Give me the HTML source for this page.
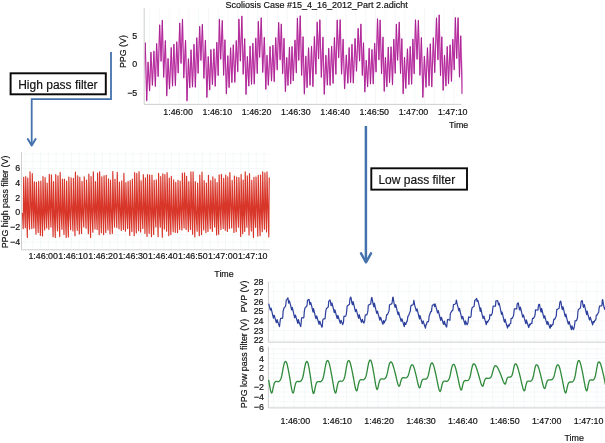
<!DOCTYPE html>
<html><head><meta charset="utf-8"><title>PPG filter figure</title>
<style>html,body{margin:0;padding:0;background:#fff;width:605px;height:443px;overflow:hidden}svg{display:block;filter:blur(0.3px)}</style>
</head><body>
<svg width="605" height="443" viewBox="0 0 605 443" font-family="'Liberation Sans', Arial, Helvetica, sans-serif" fill="#111">
<style>text{stroke:#111;stroke-width:0.18px;paint-order:stroke}</style>
<rect width="605" height="443" fill="#ffffff"/>
<line x1="149.6" y1="8.1" x2="149.6" y2="104.4" stroke="#f2f6f7" stroke-width="0.8"/>
<line x1="159.42" y1="8.1" x2="159.42" y2="104.4" stroke="#f2f6f7" stroke-width="0.8"/>
<line x1="169.24" y1="8.1" x2="169.24" y2="104.4" stroke="#f2f6f7" stroke-width="0.8"/>
<line x1="179.06" y1="8.1" x2="179.06" y2="104.4" stroke="#f2f6f7" stroke-width="0.8"/>
<line x1="188.88" y1="8.1" x2="188.88" y2="104.4" stroke="#f2f6f7" stroke-width="0.8"/>
<line x1="198.7" y1="8.1" x2="198.7" y2="104.4" stroke="#f2f6f7" stroke-width="0.8"/>
<line x1="208.52" y1="8.1" x2="208.52" y2="104.4" stroke="#f2f6f7" stroke-width="0.8"/>
<line x1="218.34" y1="8.1" x2="218.34" y2="104.4" stroke="#f2f6f7" stroke-width="0.8"/>
<line x1="228.16" y1="8.1" x2="228.16" y2="104.4" stroke="#f2f6f7" stroke-width="0.8"/>
<line x1="237.98" y1="8.1" x2="237.98" y2="104.4" stroke="#f2f6f7" stroke-width="0.8"/>
<line x1="247.8" y1="8.1" x2="247.8" y2="104.4" stroke="#f2f6f7" stroke-width="0.8"/>
<line x1="257.62" y1="8.1" x2="257.62" y2="104.4" stroke="#f2f6f7" stroke-width="0.8"/>
<line x1="267.44" y1="8.1" x2="267.44" y2="104.4" stroke="#f2f6f7" stroke-width="0.8"/>
<line x1="277.26" y1="8.1" x2="277.26" y2="104.4" stroke="#f2f6f7" stroke-width="0.8"/>
<line x1="287.08" y1="8.1" x2="287.08" y2="104.4" stroke="#f2f6f7" stroke-width="0.8"/>
<line x1="296.9" y1="8.1" x2="296.9" y2="104.4" stroke="#f2f6f7" stroke-width="0.8"/>
<line x1="306.72" y1="8.1" x2="306.72" y2="104.4" stroke="#f2f6f7" stroke-width="0.8"/>
<line x1="316.54" y1="8.1" x2="316.54" y2="104.4" stroke="#f2f6f7" stroke-width="0.8"/>
<line x1="326.36" y1="8.1" x2="326.36" y2="104.4" stroke="#f2f6f7" stroke-width="0.8"/>
<line x1="336.18" y1="8.1" x2="336.18" y2="104.4" stroke="#f2f6f7" stroke-width="0.8"/>
<line x1="346" y1="8.1" x2="346" y2="104.4" stroke="#f2f6f7" stroke-width="0.8"/>
<line x1="355.82" y1="8.1" x2="355.82" y2="104.4" stroke="#f2f6f7" stroke-width="0.8"/>
<line x1="365.64" y1="8.1" x2="365.64" y2="104.4" stroke="#f2f6f7" stroke-width="0.8"/>
<line x1="375.46" y1="8.1" x2="375.46" y2="104.4" stroke="#f2f6f7" stroke-width="0.8"/>
<line x1="385.28" y1="8.1" x2="385.28" y2="104.4" stroke="#f2f6f7" stroke-width="0.8"/>
<line x1="395.1" y1="8.1" x2="395.1" y2="104.4" stroke="#f2f6f7" stroke-width="0.8"/>
<line x1="404.92" y1="8.1" x2="404.92" y2="104.4" stroke="#f2f6f7" stroke-width="0.8"/>
<line x1="414.74" y1="8.1" x2="414.74" y2="104.4" stroke="#f2f6f7" stroke-width="0.8"/>
<line x1="424.56" y1="8.1" x2="424.56" y2="104.4" stroke="#f2f6f7" stroke-width="0.8"/>
<line x1="434.38" y1="8.1" x2="434.38" y2="104.4" stroke="#f2f6f7" stroke-width="0.8"/>
<line x1="444.2" y1="8.1" x2="444.2" y2="104.4" stroke="#f2f6f7" stroke-width="0.8"/>
<line x1="454.02" y1="8.1" x2="454.02" y2="104.4" stroke="#f2f6f7" stroke-width="0.8"/>
<line x1="144.2" y1="8.1" x2="144.2" y2="104.4" stroke="#c9c9c9" stroke-width="0.9"/>
<line x1="144.2" y1="104.4" x2="461.6" y2="104.4" stroke="#c9c9c9" stroke-width="0.9"/>
<clipPath id="ct"><rect x="144.79999999999998" y="0" width="317.6" height="120"/></clipPath><g clip-path="url(#ct)">
<polyline points="142.14,29.64 143.47,79.82 145.26,42.83 146.71,100.71 148.06,62.1 149.59,90.76 150.95,52.22 152.41,85.29 153.93,51.18 155.37,86.33 156.63,43.5 158.16,76.37 159.67,24.94 161.05,61.19 162.32,20.25 163.66,77.29 165.38,40.66 166.74,95.83 168.07,58.59 169.51,88.82 171.22,47.68 172.53,86.05 173.88,44.27 175.38,85.57 176.74,41.88 178.21,72.86 179.72,23.08 181.05,63.34 182.48,19.35 183.79,77.82 185.54,40.24 186.99,100.8 188.43,58.82 189.76,87.69 191.03,49.9 192.51,86.9 193.99,44.38 195.36,87.2 196.76,37.73 198.14,73.16 199.67,26.45 200.95,60.31 202.38,24.42 203.9,78.24 205.42,40.21 206.88,97.33 208.26,56.64 209.71,89.81 210.89,49.57 212.42,84.52 213.91,48.93 215.23,86.19 216.81,42.35 218.18,75.44 219.38,19.23 220.67,59.18 222.29,20.65 223.61,75.24 224.94,39.88 226.37,93.82 227.81,55.73 229.1,87.45 230.59,47.75 231.88,82.45 233.31,44.85 234.82,82.26 236.28,40.63 237.73,71.67 238.9,19.14 240.38,61.03 241.86,16.13 243.19,74.2 244.67,38.69 246.03,94.34 247.36,56.46 248.79,86.01 250.07,46.18 251.53,84.18 252.87,43.25 254.28,83.96 255.77,38.19 257.3,73.37 258.34,21.37 259.64,57.28 261.23,17.83 262.71,72.32 264.33,37.37 265.8,89.23 267.03,55.32 268.37,85.08 270.06,46.59 271.52,80.87 272.91,45.3 274.22,81.57 275.71,37.7 277.23,69.83 278.65,22.55 280.1,59.68 281.31,23.96 282.65,73.64 284.03,38.34 285.41,91.54 286.72,57.53 287.98,85.31 289.45,47.26 290.67,83.79 292.02,46.6 293.25,80.64 295,40.14 296.33,72.79 297.41,18.16 298.75,60.22 300.23,15.88 301.61,75.3 303.07,36.77 304.35,93.87 305.8,56.16 307.08,87.51 308.57,47.76 310.03,85.19 311.53,46.27 312.92,86.53 314.41,36.64 315.92,74.07 317.18,22.17 318.59,58.75 319.85,19.83 321.34,77.29 322.94,37.2 324.28,94.24 325.87,55.29 327.35,85.04 328.7,48.28 330.09,85.31 331.62,46.23 333.07,83.32 334.43,37.55 335.88,74.18 337.22,20.09 338.65,57.74 340.18,19.75 341.55,74.05 343.1,39.25 344.58,88.67 346.31,55.13 347.88,83.15 349.14,47.69 350.59,82.46 351.97,44.37 353.31,83.05 355.05,38.53 356.49,71.11 358.17,28.44 359.57,60.96 360.89,24.01 362.35,75.33 363.49,42.81 364.79,91.97 366.26,60.33 367.6,86.69 369.17,48.39 370.46,83.93 371.93,49.62 373.26,83.85 374.63,43.27 376.04,71.99 377.52,18.89 378.92,59.83 380.14,20.12 381.56,73.7 383,37.12 384.26,91.28 385.44,57.48 386.85,86.77 388.28,47.28 389.52,82.6 391.07,46.86 392.49,84.61 393.78,39.31 395.23,73.23 396.37,24.2 397.6,60.25 399.26,22.16 400.54,73.37 401.83,38.71 403.17,93.67 404.5,57.4 405.79,88.29 407.47,48.87 408.89,84.52 410.19,46.57 411.62,84.11 412.89,39.16 414.17,73.68 415.48,19.87 417.06,59.28 418.37,20.44 419.92,75.26 421.4,37.66 422.85,97.29 424.39,56.36 426.01,87.17 427.45,47.78 429.07,85.69 430.3,43.92 431.78,86.79 433.33,37.73 434.72,72.51 436.49,17.93 437.93,59.73 439.17,14.95 440.52,75.56 441.8,36.92 443.15,90.26 444.5,55.38 445.95,86.03 447.24,46.54 448.52,83.67 450.09,44.93 451.46,81.28 452.79,39.36 454.22,69.8 455.37,17.62 456.71,58.39 458.09,17.82 459.49,77.1 460.74,35.89 462.18,93.84 463.6,53.84" fill="none" stroke="#e25cc8" stroke-width="1.15" stroke-linejoin="round" />
<polyline points="142.14,29.64 143.47,79.82 145.26,42.83 146.71,100.71 148.06,62.1 149.59,90.76 150.95,52.22 152.41,85.29 153.93,51.18 155.37,86.33 156.63,43.5 158.16,76.37 159.67,24.94 161.05,61.19 162.32,20.25 163.66,77.29 165.38,40.66 166.74,95.83 168.07,58.59 169.51,88.82 171.22,47.68 172.53,86.05 173.88,44.27 175.38,85.57 176.74,41.88 178.21,72.86 179.72,23.08 181.05,63.34 182.48,19.35 183.79,77.82 185.54,40.24 186.99,100.8 188.43,58.82 189.76,87.69 191.03,49.9 192.51,86.9 193.99,44.38 195.36,87.2 196.76,37.73 198.14,73.16 199.67,26.45 200.95,60.31 202.38,24.42 203.9,78.24 205.42,40.21 206.88,97.33 208.26,56.64 209.71,89.81 210.89,49.57 212.42,84.52 213.91,48.93 215.23,86.19 216.81,42.35 218.18,75.44 219.38,19.23 220.67,59.18 222.29,20.65 223.61,75.24 224.94,39.88 226.37,93.82 227.81,55.73 229.1,87.45 230.59,47.75 231.88,82.45 233.31,44.85 234.82,82.26 236.28,40.63 237.73,71.67 238.9,19.14 240.38,61.03 241.86,16.13 243.19,74.2 244.67,38.69 246.03,94.34 247.36,56.46 248.79,86.01 250.07,46.18 251.53,84.18 252.87,43.25 254.28,83.96 255.77,38.19 257.3,73.37 258.34,21.37 259.64,57.28 261.23,17.83 262.71,72.32 264.33,37.37 265.8,89.23 267.03,55.32 268.37,85.08 270.06,46.59 271.52,80.87 272.91,45.3 274.22,81.57 275.71,37.7 277.23,69.83 278.65,22.55 280.1,59.68 281.31,23.96 282.65,73.64 284.03,38.34 285.41,91.54 286.72,57.53 287.98,85.31 289.45,47.26 290.67,83.79 292.02,46.6 293.25,80.64 295,40.14 296.33,72.79 297.41,18.16 298.75,60.22 300.23,15.88 301.61,75.3 303.07,36.77 304.35,93.87 305.8,56.16 307.08,87.51 308.57,47.76 310.03,85.19 311.53,46.27 312.92,86.53 314.41,36.64 315.92,74.07 317.18,22.17 318.59,58.75 319.85,19.83 321.34,77.29 322.94,37.2 324.28,94.24 325.87,55.29 327.35,85.04 328.7,48.28 330.09,85.31 331.62,46.23 333.07,83.32 334.43,37.55 335.88,74.18 337.22,20.09 338.65,57.74 340.18,19.75 341.55,74.05 343.1,39.25 344.58,88.67 346.31,55.13 347.88,83.15 349.14,47.69 350.59,82.46 351.97,44.37 353.31,83.05 355.05,38.53 356.49,71.11 358.17,28.44 359.57,60.96 360.89,24.01 362.35,75.33 363.49,42.81 364.79,91.97 366.26,60.33 367.6,86.69 369.17,48.39 370.46,83.93 371.93,49.62 373.26,83.85 374.63,43.27 376.04,71.99 377.52,18.89 378.92,59.83 380.14,20.12 381.56,73.7 383,37.12 384.26,91.28 385.44,57.48 386.85,86.77 388.28,47.28 389.52,82.6 391.07,46.86 392.49,84.61 393.78,39.31 395.23,73.23 396.37,24.2 397.6,60.25 399.26,22.16 400.54,73.37 401.83,38.71 403.17,93.67 404.5,57.4 405.79,88.29 407.47,48.87 408.89,84.52 410.19,46.57 411.62,84.11 412.89,39.16 414.17,73.68 415.48,19.87 417.06,59.28 418.37,20.44 419.92,75.26 421.4,37.66 422.85,97.29 424.39,56.36 426.01,87.17 427.45,47.78 429.07,85.69 430.3,43.92 431.78,86.79 433.33,37.73 434.72,72.51 436.49,17.93 437.93,59.73 439.17,14.95 440.52,75.56 441.8,36.92 443.15,90.26 444.5,55.38 445.95,86.03 447.24,46.54 448.52,83.67 450.09,44.93 451.46,81.28 452.79,39.36 454.22,69.8 455.37,17.62 456.71,58.39 458.09,17.82 459.49,77.1 460.74,35.89 462.18,93.84 463.6,53.84" fill="none" stroke="#941480" stroke-width="0.6" stroke-linejoin="round" />
</g>
<text x="178.1" y="114.9" text-anchor="middle" font-size="8.9" >1:46:00</text>
<text x="217.33" y="114.9" text-anchor="middle" font-size="8.9" >1:46:10</text>
<text x="256.56" y="114.9" text-anchor="middle" font-size="8.9" >1:46:20</text>
<text x="295.79" y="114.9" text-anchor="middle" font-size="8.9" >1:46:30</text>
<text x="335.02" y="114.9" text-anchor="middle" font-size="8.9" >1:46:40</text>
<text x="374.25" y="114.9" text-anchor="middle" font-size="8.9" >1:46:50</text>
<text x="413.48" y="114.9" text-anchor="middle" font-size="8.9" >1:47:00</text>
<text x="452.71" y="114.9" text-anchor="middle" font-size="8.9" >1:47:10</text>
<text x="137.3" y="39" text-anchor="end" font-size="8.9" >5</text>
<text x="137.3" y="67" text-anchor="end" font-size="8.9" >0</text>
<text x="137.3" y="95.6" text-anchor="end" font-size="8.9" >−5</text>
<text x="458.6" y="128.4" text-anchor="middle" font-size="8.9" >Time</text>
<text x="316.6" y="7.9" text-anchor="middle" font-size="9.0" >Scoliosis Case #15_4_16_2012_Part 2.adicht</text>
<text transform="translate(125.8,51.6) rotate(-90)" text-anchor="middle" font-size="8.9">PPG (V)</text>
<line x1="25.3" y1="151.8" x2="25.3" y2="249.8" stroke="#f2f6f7" stroke-width="0.8"/>
<line x1="33" y1="151.8" x2="33" y2="249.8" stroke="#f2f6f7" stroke-width="0.8"/>
<line x1="40.7" y1="151.8" x2="40.7" y2="249.8" stroke="#f2f6f7" stroke-width="0.8"/>
<line x1="48.4" y1="151.8" x2="48.4" y2="249.8" stroke="#f2f6f7" stroke-width="0.8"/>
<line x1="56.1" y1="151.8" x2="56.1" y2="249.8" stroke="#f2f6f7" stroke-width="0.8"/>
<line x1="63.8" y1="151.8" x2="63.8" y2="249.8" stroke="#f2f6f7" stroke-width="0.8"/>
<line x1="71.5" y1="151.8" x2="71.5" y2="249.8" stroke="#f2f6f7" stroke-width="0.8"/>
<line x1="79.2" y1="151.8" x2="79.2" y2="249.8" stroke="#f2f6f7" stroke-width="0.8"/>
<line x1="86.9" y1="151.8" x2="86.9" y2="249.8" stroke="#f2f6f7" stroke-width="0.8"/>
<line x1="94.6" y1="151.8" x2="94.6" y2="249.8" stroke="#f2f6f7" stroke-width="0.8"/>
<line x1="102.3" y1="151.8" x2="102.3" y2="249.8" stroke="#f2f6f7" stroke-width="0.8"/>
<line x1="110" y1="151.8" x2="110" y2="249.8" stroke="#f2f6f7" stroke-width="0.8"/>
<line x1="117.7" y1="151.8" x2="117.7" y2="249.8" stroke="#f2f6f7" stroke-width="0.8"/>
<line x1="125.4" y1="151.8" x2="125.4" y2="249.8" stroke="#f2f6f7" stroke-width="0.8"/>
<line x1="133.1" y1="151.8" x2="133.1" y2="249.8" stroke="#f2f6f7" stroke-width="0.8"/>
<line x1="140.8" y1="151.8" x2="140.8" y2="249.8" stroke="#f2f6f7" stroke-width="0.8"/>
<line x1="148.5" y1="151.8" x2="148.5" y2="249.8" stroke="#f2f6f7" stroke-width="0.8"/>
<line x1="156.2" y1="151.8" x2="156.2" y2="249.8" stroke="#f2f6f7" stroke-width="0.8"/>
<line x1="163.9" y1="151.8" x2="163.9" y2="249.8" stroke="#f2f6f7" stroke-width="0.8"/>
<line x1="171.6" y1="151.8" x2="171.6" y2="249.8" stroke="#f2f6f7" stroke-width="0.8"/>
<line x1="179.3" y1="151.8" x2="179.3" y2="249.8" stroke="#f2f6f7" stroke-width="0.8"/>
<line x1="187" y1="151.8" x2="187" y2="249.8" stroke="#f2f6f7" stroke-width="0.8"/>
<line x1="194.7" y1="151.8" x2="194.7" y2="249.8" stroke="#f2f6f7" stroke-width="0.8"/>
<line x1="202.4" y1="151.8" x2="202.4" y2="249.8" stroke="#f2f6f7" stroke-width="0.8"/>
<line x1="210.1" y1="151.8" x2="210.1" y2="249.8" stroke="#f2f6f7" stroke-width="0.8"/>
<line x1="217.8" y1="151.8" x2="217.8" y2="249.8" stroke="#f2f6f7" stroke-width="0.8"/>
<line x1="225.5" y1="151.8" x2="225.5" y2="249.8" stroke="#f2f6f7" stroke-width="0.8"/>
<line x1="233.2" y1="151.8" x2="233.2" y2="249.8" stroke="#f2f6f7" stroke-width="0.8"/>
<line x1="240.9" y1="151.8" x2="240.9" y2="249.8" stroke="#f2f6f7" stroke-width="0.8"/>
<line x1="248.6" y1="151.8" x2="248.6" y2="249.8" stroke="#f2f6f7" stroke-width="0.8"/>
<line x1="256.3" y1="151.8" x2="256.3" y2="249.8" stroke="#f2f6f7" stroke-width="0.8"/>
<line x1="264" y1="151.8" x2="264" y2="249.8" stroke="#f2f6f7" stroke-width="0.8"/>
<line x1="21.5" y1="242.1" x2="269.5" y2="242.1" stroke="#f2f6f7" stroke-width="0.8"/>
<line x1="21.5" y1="234.75" x2="269.5" y2="234.75" stroke="#f2f6f7" stroke-width="0.8"/>
<line x1="21.5" y1="227.4" x2="269.5" y2="227.4" stroke="#f2f6f7" stroke-width="0.8"/>
<line x1="21.5" y1="220.05" x2="269.5" y2="220.05" stroke="#f2f6f7" stroke-width="0.8"/>
<line x1="21.5" y1="212.7" x2="269.5" y2="212.7" stroke="#f2f6f7" stroke-width="0.8"/>
<line x1="21.5" y1="205.35" x2="269.5" y2="205.35" stroke="#f2f6f7" stroke-width="0.8"/>
<line x1="21.5" y1="198" x2="269.5" y2="198" stroke="#f2f6f7" stroke-width="0.8"/>
<line x1="21.5" y1="190.65" x2="269.5" y2="190.65" stroke="#f2f6f7" stroke-width="0.8"/>
<line x1="21.5" y1="183.3" x2="269.5" y2="183.3" stroke="#f2f6f7" stroke-width="0.8"/>
<line x1="21.5" y1="175.95" x2="269.5" y2="175.95" stroke="#f2f6f7" stroke-width="0.8"/>
<line x1="21.5" y1="168.6" x2="269.5" y2="168.6" stroke="#f2f6f7" stroke-width="0.8"/>
<line x1="21.5" y1="161.25" x2="269.5" y2="161.25" stroke="#f2f6f7" stroke-width="0.8"/>
<line x1="21.5" y1="153.9" x2="269.5" y2="153.9" stroke="#f2f6f7" stroke-width="0.8"/>
<line x1="21.5" y1="151.8" x2="21.5" y2="249.8" stroke="#c9c9c9" stroke-width="0.9"/>
<line x1="21.5" y1="249.8" x2="269.5" y2="249.8" stroke="#c9c9c9" stroke-width="0.9"/>
<polyline points="22.43,212.91 23.22,228.6 23.67,177.4 24.55,210.68 25.28,227.69 25.73,176.64 26.61,209.82 27.33,237.52 27.78,178 28.75,216.69 29.55,229.22 30,171.83 31,209.13 31.82,228.56 32.27,173.63 33.17,209.34 33.9,228.05 34.35,181.82 35.25,211.87 35.99,234.28 36.44,182.31 37.42,216.09 38.22,232.37 38.67,181.42 39.61,214.53 40.38,235.36 40.83,181.07 41.77,216.36 42.53,235.91 42.98,176.49 43.9,215.11 44.65,230.04 45.1,177.63 45.97,211.7 46.69,227.94 47.14,183.12 48.08,212.25 48.85,229.4 49.3,174.43 50.21,210.16 50.96,227.09 51.41,174.79 52.33,208.79 53.09,236.78 53.54,181.6 54.49,217.47 55.27,237.49 55.72,174.6 56.7,215.48 57.5,230.81 57.95,175.89 58.92,211.59 59.71,236.61 60.16,172.43 61.14,214.15 61.95,229.31 62.4,179.16 63.27,211.76 63.97,234.48 64.42,179.2 65.4,215.13 66.19,237.47 66.64,181.19 67.59,217.77 68.37,236.99 68.82,177.08 69.83,216.02 70.65,229.6 71.1,177.78 72.12,211.47 72.95,230.98 73.4,178.38 74.27,212.57 74.98,235.71 75.43,172.09 76.43,213.44 77.25,230.31 77.7,175.73 78.6,211.21 79.34,233.93 79.79,177.32 80.76,214.11 81.55,233.53 82,181.39 82.99,215.28 83.8,226.97 84.25,176.79 85.25,209.4 86.07,228.22 86.52,180.08 87.54,211.37 88.38,233.64 88.83,174.06 89.8,212.79 90.59,237.4 91.04,176.53 92.05,216.09 92.87,232.26 93.32,171.76 94.26,211.09 95.04,228.94 95.49,181.49 96.39,212.34 97.13,229.57 97.58,173.05 98.47,209.79 99.19,234.63 99.64,171.74 100.59,212.62 101.36,232.84 101.81,176.79 102.8,213.22 103.61,234.6 104.06,175.79 105,214.02 105.76,232.53 106.21,175.28 107.19,212.5 107.99,229.98 108.44,178.79 109.32,212.07 110.04,234.04 110.49,180.1 111.52,215.16 112.36,233.4 112.81,171.57 113.75,211.76 114.52,227.05 114.97,179.32 115.97,210.35 116.79,227.55 117.24,172.28 118.22,208.2 119.03,228.82 119.48,182.15 120.47,212.48 121.28,230.54 121.73,180.83 122.66,213.14 123.42,229.46 123.87,173.23 124.75,209.78 125.47,231.14 125.92,182.6 126.86,214.15 127.63,228.56 128.08,181.29 128.99,212.02 129.74,235.42 130.19,180.63 131.12,216.25 131.88,231.61 132.33,179.12 133.36,213.24 134.2,235.72 134.65,172.68 135.57,213.66 136.32,233.05 136.77,173.42 137.76,212.18 138.57,230.68 139.02,171.61 139.91,210 140.64,232.09 141.09,180.7 142.05,214.1 142.84,228.53 143.29,174.57 144.21,209.64 144.96,233.53 145.41,177.81 146.31,214.02 147.05,236.57 147.5,174.64 148.43,214.9 149.19,233.33 149.64,175 150.66,212.91 151.49,236.73 151.94,175.13 152.9,215.17 153.69,234.51 154.14,180.33 155.09,215.55 155.86,227.02 156.31,179.72 157.31,210.47 158.12,236.73 158.57,173.26 159.52,214.52 160.3,227.21 160.75,176.51 161.63,209.46 162.35,237.14 162.8,173.77 163.68,214.96 164.41,229.08 164.86,174.6 165.84,210.01 166.64,231.28 167.09,172.69 168.03,210.77 168.8,235.67 169.25,178.16 170.15,215.54 170.88,234.6 171.33,176.31 172.36,214.2 173.2,231.84 173.65,179.91 174.55,213.67 175.3,232.32 175.75,182.44 176.74,214.86 177.55,232.59 178,180.34 178.92,214.31 179.67,229.47 180.12,181.09 181.1,212.54 181.91,230.06 182.36,173.14 183.31,210.14 184.09,227.94 184.54,172.78 185.41,208.63 186.12,229.41 186.57,176.37 187.55,210.84 188.35,231.56 188.8,181.62 189.71,214.08 190.46,229.48 190.91,171.93 191.84,209.34 192.61,234.24 193.06,171.9 194.04,212.42 194.84,236.99 195.29,181.56 196.32,217.59 197.16,231.16 197.61,183.06 198.55,214.32 199.32,235.79 199.77,175.01 200.74,214.52 201.54,234.6 201.99,172.1 202.93,212.72 203.71,229.91 204.16,180.52 205.13,212.62 205.93,232.56 206.38,182.99 207.27,215.21 207.99,231.51 208.44,175.43 209.47,211.89 210.31,228.79 210.76,180.56 211.65,211.91 212.38,231.37 212.83,176.78 213.8,212.27 214.6,226.91 215.05,178.75 215.92,210.06 216.63,234.9 217.08,182.62 217.96,216.6 218.68,234.33 219.13,174.89 220.14,213.52 220.96,229.45 221.41,174.43 222.4,210.2 223.21,228.41 223.66,178.44 224.54,210.92 225.26,230.27 225.71,175.14 226.62,210.97 227.36,231.42 227.81,176.89 228.68,212.33 229.4,228.54 229.85,172.47 230.87,208.91 231.7,227.86 232.15,180.41 233.16,211.25 233.98,232.45 234.43,176.13 235.42,212.74 236.23,231.68 236.68,176.98 237.66,212.54 238.46,227.1 238.91,177.61 239.89,209.78 240.68,236.5 241.13,174.44 242,214.78 242.71,233.64 243.16,179.99 244.03,214.86 244.75,231.51 245.2,171.77 246.11,210.6 246.86,227.16 247.31,175.9 248.27,209.22 249.05,235.09 249.5,173.59 250.5,213.56 251.32,231.07 251.77,180.28 252.71,213.3 253.47,237.53 253.92,177.37 254.83,216.48 255.57,227.31 256.02,176.95 256.98,209.68 257.78,236.18 258.23,175.27 259.25,214.86 260.08,235.73 260.53,175.03 261.48,214.49 262.25,231.7 262.7,171.85 263.66,210.75 264.44,229.18 264.89,172.81 265.8,209.45 266.54,231.98 266.99,171.93 267.98,210.96 268.79,237.01 269.24,177.47" fill="none" stroke="#d9362a" stroke-width="1.15" stroke-linejoin="round" />
<text x="43.2" y="258.7" text-anchor="middle" font-size="8.9" >1:46:00</text>
<text x="73.13" y="258.7" text-anchor="middle" font-size="8.9" >1:46:10</text>
<text x="103.06" y="258.7" text-anchor="middle" font-size="8.9" >1:46:20</text>
<text x="132.99" y="258.7" text-anchor="middle" font-size="8.9" >1:46:30</text>
<text x="162.92" y="258.7" text-anchor="middle" font-size="8.9" >1:46:40</text>
<text x="192.85" y="258.7" text-anchor="middle" font-size="8.9" >1:46:50</text>
<text x="222.78" y="258.7" text-anchor="middle" font-size="8.9" >1:47:00</text>
<text x="252.71" y="258.7" text-anchor="middle" font-size="8.9" >1:47:10</text>
<text x="20.1" y="171.3" text-anchor="end" font-size="8.9" >6</text>
<text x="20.1" y="186" text-anchor="end" font-size="8.9" >4</text>
<text x="20.1" y="200.7" text-anchor="end" font-size="8.9" >2</text>
<text x="20.1" y="215.4" text-anchor="end" font-size="8.9" >0</text>
<text x="20.1" y="230.1" text-anchor="end" font-size="8.9" >−2</text>
<text x="20.1" y="244.8" text-anchor="end" font-size="8.9" >−4</text>
<text x="224" y="276.5" text-anchor="middle" font-size="8.9" >Time</text>
<text transform="translate(8.0,202.0) rotate(-90)" text-anchor="middle" font-size="8.9">PPG high pass filter (V)</text>
<line x1="273.4" y1="281.7" x2="273.4" y2="342.2" stroke="#f2f6f7" stroke-width="0.8"/>
<line x1="273.4" y1="346.6" x2="273.4" y2="407.9" stroke="#f2f6f7" stroke-width="0.8"/>
<line x1="283.84" y1="281.7" x2="283.84" y2="342.2" stroke="#f2f6f7" stroke-width="0.8"/>
<line x1="283.84" y1="346.6" x2="283.84" y2="407.9" stroke="#f2f6f7" stroke-width="0.8"/>
<line x1="294.28" y1="281.7" x2="294.28" y2="342.2" stroke="#f2f6f7" stroke-width="0.8"/>
<line x1="294.28" y1="346.6" x2="294.28" y2="407.9" stroke="#f2f6f7" stroke-width="0.8"/>
<line x1="304.72" y1="281.7" x2="304.72" y2="342.2" stroke="#f2f6f7" stroke-width="0.8"/>
<line x1="304.72" y1="346.6" x2="304.72" y2="407.9" stroke="#f2f6f7" stroke-width="0.8"/>
<line x1="315.16" y1="281.7" x2="315.16" y2="342.2" stroke="#f2f6f7" stroke-width="0.8"/>
<line x1="315.16" y1="346.6" x2="315.16" y2="407.9" stroke="#f2f6f7" stroke-width="0.8"/>
<line x1="325.6" y1="281.7" x2="325.6" y2="342.2" stroke="#f2f6f7" stroke-width="0.8"/>
<line x1="325.6" y1="346.6" x2="325.6" y2="407.9" stroke="#f2f6f7" stroke-width="0.8"/>
<line x1="336.04" y1="281.7" x2="336.04" y2="342.2" stroke="#f2f6f7" stroke-width="0.8"/>
<line x1="336.04" y1="346.6" x2="336.04" y2="407.9" stroke="#f2f6f7" stroke-width="0.8"/>
<line x1="346.48" y1="281.7" x2="346.48" y2="342.2" stroke="#f2f6f7" stroke-width="0.8"/>
<line x1="346.48" y1="346.6" x2="346.48" y2="407.9" stroke="#f2f6f7" stroke-width="0.8"/>
<line x1="356.92" y1="281.7" x2="356.92" y2="342.2" stroke="#f2f6f7" stroke-width="0.8"/>
<line x1="356.92" y1="346.6" x2="356.92" y2="407.9" stroke="#f2f6f7" stroke-width="0.8"/>
<line x1="367.36" y1="281.7" x2="367.36" y2="342.2" stroke="#f2f6f7" stroke-width="0.8"/>
<line x1="367.36" y1="346.6" x2="367.36" y2="407.9" stroke="#f2f6f7" stroke-width="0.8"/>
<line x1="377.8" y1="281.7" x2="377.8" y2="342.2" stroke="#f2f6f7" stroke-width="0.8"/>
<line x1="377.8" y1="346.6" x2="377.8" y2="407.9" stroke="#f2f6f7" stroke-width="0.8"/>
<line x1="388.24" y1="281.7" x2="388.24" y2="342.2" stroke="#f2f6f7" stroke-width="0.8"/>
<line x1="388.24" y1="346.6" x2="388.24" y2="407.9" stroke="#f2f6f7" stroke-width="0.8"/>
<line x1="398.68" y1="281.7" x2="398.68" y2="342.2" stroke="#f2f6f7" stroke-width="0.8"/>
<line x1="398.68" y1="346.6" x2="398.68" y2="407.9" stroke="#f2f6f7" stroke-width="0.8"/>
<line x1="409.12" y1="281.7" x2="409.12" y2="342.2" stroke="#f2f6f7" stroke-width="0.8"/>
<line x1="409.12" y1="346.6" x2="409.12" y2="407.9" stroke="#f2f6f7" stroke-width="0.8"/>
<line x1="419.56" y1="281.7" x2="419.56" y2="342.2" stroke="#f2f6f7" stroke-width="0.8"/>
<line x1="419.56" y1="346.6" x2="419.56" y2="407.9" stroke="#f2f6f7" stroke-width="0.8"/>
<line x1="430" y1="281.7" x2="430" y2="342.2" stroke="#f2f6f7" stroke-width="0.8"/>
<line x1="430" y1="346.6" x2="430" y2="407.9" stroke="#f2f6f7" stroke-width="0.8"/>
<line x1="440.44" y1="281.7" x2="440.44" y2="342.2" stroke="#f2f6f7" stroke-width="0.8"/>
<line x1="440.44" y1="346.6" x2="440.44" y2="407.9" stroke="#f2f6f7" stroke-width="0.8"/>
<line x1="450.88" y1="281.7" x2="450.88" y2="342.2" stroke="#f2f6f7" stroke-width="0.8"/>
<line x1="450.88" y1="346.6" x2="450.88" y2="407.9" stroke="#f2f6f7" stroke-width="0.8"/>
<line x1="461.32" y1="281.7" x2="461.32" y2="342.2" stroke="#f2f6f7" stroke-width="0.8"/>
<line x1="461.32" y1="346.6" x2="461.32" y2="407.9" stroke="#f2f6f7" stroke-width="0.8"/>
<line x1="471.76" y1="281.7" x2="471.76" y2="342.2" stroke="#f2f6f7" stroke-width="0.8"/>
<line x1="471.76" y1="346.6" x2="471.76" y2="407.9" stroke="#f2f6f7" stroke-width="0.8"/>
<line x1="482.2" y1="281.7" x2="482.2" y2="342.2" stroke="#f2f6f7" stroke-width="0.8"/>
<line x1="482.2" y1="346.6" x2="482.2" y2="407.9" stroke="#f2f6f7" stroke-width="0.8"/>
<line x1="492.64" y1="281.7" x2="492.64" y2="342.2" stroke="#f2f6f7" stroke-width="0.8"/>
<line x1="492.64" y1="346.6" x2="492.64" y2="407.9" stroke="#f2f6f7" stroke-width="0.8"/>
<line x1="503.08" y1="281.7" x2="503.08" y2="342.2" stroke="#f2f6f7" stroke-width="0.8"/>
<line x1="503.08" y1="346.6" x2="503.08" y2="407.9" stroke="#f2f6f7" stroke-width="0.8"/>
<line x1="513.52" y1="281.7" x2="513.52" y2="342.2" stroke="#f2f6f7" stroke-width="0.8"/>
<line x1="513.52" y1="346.6" x2="513.52" y2="407.9" stroke="#f2f6f7" stroke-width="0.8"/>
<line x1="523.96" y1="281.7" x2="523.96" y2="342.2" stroke="#f2f6f7" stroke-width="0.8"/>
<line x1="523.96" y1="346.6" x2="523.96" y2="407.9" stroke="#f2f6f7" stroke-width="0.8"/>
<line x1="534.4" y1="281.7" x2="534.4" y2="342.2" stroke="#f2f6f7" stroke-width="0.8"/>
<line x1="534.4" y1="346.6" x2="534.4" y2="407.9" stroke="#f2f6f7" stroke-width="0.8"/>
<line x1="544.84" y1="281.7" x2="544.84" y2="342.2" stroke="#f2f6f7" stroke-width="0.8"/>
<line x1="544.84" y1="346.6" x2="544.84" y2="407.9" stroke="#f2f6f7" stroke-width="0.8"/>
<line x1="555.28" y1="281.7" x2="555.28" y2="342.2" stroke="#f2f6f7" stroke-width="0.8"/>
<line x1="555.28" y1="346.6" x2="555.28" y2="407.9" stroke="#f2f6f7" stroke-width="0.8"/>
<line x1="565.72" y1="281.7" x2="565.72" y2="342.2" stroke="#f2f6f7" stroke-width="0.8"/>
<line x1="565.72" y1="346.6" x2="565.72" y2="407.9" stroke="#f2f6f7" stroke-width="0.8"/>
<line x1="576.16" y1="281.7" x2="576.16" y2="342.2" stroke="#f2f6f7" stroke-width="0.8"/>
<line x1="576.16" y1="346.6" x2="576.16" y2="407.9" stroke="#f2f6f7" stroke-width="0.8"/>
<line x1="586.6" y1="281.7" x2="586.6" y2="342.2" stroke="#f2f6f7" stroke-width="0.8"/>
<line x1="586.6" y1="346.6" x2="586.6" y2="407.9" stroke="#f2f6f7" stroke-width="0.8"/>
<line x1="597.04" y1="281.7" x2="597.04" y2="342.2" stroke="#f2f6f7" stroke-width="0.8"/>
<line x1="597.04" y1="346.6" x2="597.04" y2="407.9" stroke="#f2f6f7" stroke-width="0.8"/>
<line x1="268.4" y1="340.2" x2="605" y2="340.2" stroke="#f2f6f7" stroke-width="0.8"/>
<line x1="268.4" y1="330.5" x2="605" y2="330.5" stroke="#f2f6f7" stroke-width="0.8"/>
<line x1="268.4" y1="320.8" x2="605" y2="320.8" stroke="#f2f6f7" stroke-width="0.8"/>
<line x1="268.4" y1="311.1" x2="605" y2="311.1" stroke="#f2f6f7" stroke-width="0.8"/>
<line x1="268.4" y1="301.4" x2="605" y2="301.4" stroke="#f2f6f7" stroke-width="0.8"/>
<line x1="268.4" y1="291.7" x2="605" y2="291.7" stroke="#f2f6f7" stroke-width="0.8"/>
<line x1="268.4" y1="282" x2="605" y2="282" stroke="#f2f6f7" stroke-width="0.8"/>
<line x1="268.4" y1="406.38" x2="605" y2="406.38" stroke="#f2f6f7" stroke-width="0.8"/>
<line x1="268.4" y1="401.6" x2="605" y2="401.6" stroke="#f2f6f7" stroke-width="0.8"/>
<line x1="268.4" y1="396.82" x2="605" y2="396.82" stroke="#f2f6f7" stroke-width="0.8"/>
<line x1="268.4" y1="392.04" x2="605" y2="392.04" stroke="#f2f6f7" stroke-width="0.8"/>
<line x1="268.4" y1="387.26" x2="605" y2="387.26" stroke="#f2f6f7" stroke-width="0.8"/>
<line x1="268.4" y1="382.48" x2="605" y2="382.48" stroke="#f2f6f7" stroke-width="0.8"/>
<line x1="268.4" y1="377.7" x2="605" y2="377.7" stroke="#f2f6f7" stroke-width="0.8"/>
<line x1="268.4" y1="372.92" x2="605" y2="372.92" stroke="#f2f6f7" stroke-width="0.8"/>
<line x1="268.4" y1="368.14" x2="605" y2="368.14" stroke="#f2f6f7" stroke-width="0.8"/>
<line x1="268.4" y1="363.36" x2="605" y2="363.36" stroke="#f2f6f7" stroke-width="0.8"/>
<line x1="268.4" y1="358.58" x2="605" y2="358.58" stroke="#f2f6f7" stroke-width="0.8"/>
<line x1="268.4" y1="353.8" x2="605" y2="353.8" stroke="#f2f6f7" stroke-width="0.8"/>
<line x1="268.4" y1="349.02" x2="605" y2="349.02" stroke="#f2f6f7" stroke-width="0.8"/>
<line x1="268.4" y1="281.7" x2="268.4" y2="342.2" stroke="#c9c9c9" stroke-width="0.9"/>
<line x1="268.4" y1="342.2" x2="605" y2="342.2" stroke="#c9c9c9" stroke-width="0.9"/>
<line x1="268.4" y1="346.6" x2="268.4" y2="407.9" stroke="#c9c9c9" stroke-width="0.9"/>
<line x1="268.4" y1="407.9" x2="605" y2="407.9" stroke="#c9c9c9" stroke-width="0.9"/>
<polyline points="268.7,379.79 269.2,382.98 269.7,385.96 270.2,388.85 270.7,391.08 271.2,392.59 271.7,393.04 272.2,392.27 272.7,390.14 273.2,387.35 273.7,385.33 274.2,383.52 274.7,382.39 275.2,381.85 275.7,381.54 276.2,381.43 276.7,381.43 277.2,381.46 277.7,381.56 278.2,381.63 278.7,381.51 279.2,381.23 279.7,380.81 280.2,380.15 280.7,379.25 281.2,377.94 281.7,375.98 282.2,373.5 282.7,370.62 283.2,367.88 283.7,365.46 284.2,363.44 284.7,362.18 285.2,361.56 285.7,361.47 286.2,361.95 286.7,363 287.2,364.71 287.7,366.85 288.2,369.26 288.7,371.94 289.2,374.66 289.7,377.46 290.2,380.41 290.7,383.61 291.2,386.55 291.7,389.36 292.2,391.45 292.7,392.77 293.2,392.99 293.7,391.94 294.2,389.58 294.7,386.93 295.2,384.94 295.7,383.23 296.2,382.25 296.7,381.78 297.2,381.5 297.7,381.42 298.2,381.44 298.7,381.48 299.2,381.58 299.7,381.62 300.2,381.46 300.7,381.16 301.2,380.71 301.7,379.99 302.2,379.04 302.7,377.59 303.2,375.51 303.7,372.96 304.2,370.04 304.7,367.39 305.2,365.01 305.7,363.13 306.2,362.01 306.7,361.51 307.2,361.55 307.7,362.34 308.2,363.92 308.7,366.25 309.2,368.96 309.7,372.03 310.2,375.18 310.7,378.44 311.2,381.97 311.7,385.57 312.2,388.91 312.7,391.54 313.2,393.2 313.7,393.47 314.2,392.42 314.7,390.04 315.2,387.34 315.7,385.31 316.2,383.56 316.7,382.52 317.2,382.01 317.7,381.71 318.2,381.61 318.7,381.61 319.2,381.63 319.7,381.72 320.2,381.76 320.7,381.61 321.2,381.3 321.7,380.84 322.2,380.13 322.7,379.17 323.2,377.76 323.7,375.69 324.2,373.1 324.7,370.1 325.2,367.26 325.7,364.73 326.2,362.63 326.7,361.3 327.2,360.63 327.7,360.51 328.2,360.94 328.7,361.89 329.2,363.42 329.7,365.42 330.2,367.65 330.7,370.17 331.2,372.79 331.7,375.44 332.2,378.19 332.7,381.15 333.2,384.21 333.7,387.03 334.2,389.62 334.7,391.56 335.2,392.78 335.7,392.98 336.2,391.74 336.7,389.01 337.2,386.3 337.7,384.15 338.2,382.5 338.7,381.69 339.2,381.29 339.7,381.09 340.2,381.08 340.7,381.1 341.2,381.2 341.7,381.28 342.2,381.15 342.7,380.84 343.2,380.36 343.7,379.59 344.2,378.54 344.7,376.88 345.2,374.49 345.7,371.62 346.2,368.43 346.7,365.68 347.2,363.24 347.7,361.57 348.2,360.72 348.7,360.49 349.2,360.79 349.7,361.58 350.2,362.9 350.7,364.7 351.2,366.73 351.7,369.05 352.2,371.49 352.7,373.95 353.2,376.5 353.7,379.21 354.2,382.09 354.7,384.73 355.2,387.26 355.7,389.18 356.2,390.49 356.7,390.89 357.2,390.1 357.7,387.95 358.2,385.23 358.7,383.26 359.2,381.53 359.7,380.5 360.2,380.02 360.7,379.74 361.2,379.65 361.7,379.66 362.2,379.69 362.7,379.79 363.2,379.81 363.7,379.63 364.2,379.3 364.7,378.82 365.2,378.06 365.7,377.05 366.2,375.45 366.7,373.21 367.2,370.58 367.7,367.66 368.2,365.13 368.7,362.85 369.2,361.23 369.7,360.33 370.2,360.01 370.7,360.28 371.2,361.19 371.7,362.81 372.2,364.95 372.7,367.4 373.2,370.12 373.7,372.89 374.2,375.75 374.7,378.86 375.2,382.03 375.7,384.97 376.2,387.36 376.7,388.98 377.2,389.45 377.7,388.71 378.2,386.67 378.7,384.08 379.2,382.23 379.7,380.59 380.2,379.62 380.7,379.17 381.2,378.93 381.7,378.87 382.2,378.91 382.7,378.96 383.2,379.09 383.7,379.15 384.2,379.03 384.7,378.78 385.2,378.38 385.7,377.76 386.2,376.9 386.7,375.58 387.2,373.69 387.7,371.41 388.2,368.83 388.7,366.56 389.2,364.54 389.7,363.04 390.2,362.22 390.7,361.93 391.2,362.01 391.7,362.45 392.2,363.26 392.7,364.48 393.2,365.97 393.7,367.61 394.2,369.45 394.7,371.34 395.2,373.25 395.7,375.24 396.2,377.37 396.7,379.58 397.2,381.61 397.7,383.51 398.2,384.96 398.7,385.94 399.2,386.24 399.7,385.55 400.2,383.72 400.7,381.6 401.2,380.03 401.7,378.75 402.2,378.09 402.7,377.81 403.2,377.67 403.7,377.68 404.2,377.74 404.7,377.84 405.2,377.95 405.7,377.93 406.2,377.77 406.7,377.5 407.2,377.06 407.7,376.42 408.2,375.43 408.7,373.96 409.2,372.13 409.7,370.04 410.2,368.21 410.7,366.6 411.2,365.47 411.7,364.91 412.2,364.79 412.7,364.98 413.2,365.59 413.7,366.68 414.2,368.19 414.7,369.9 415.2,371.84 415.7,373.85 416.2,375.91 416.7,378.05 417.2,380.4 417.7,382.63 418.2,384.78 418.7,386.45 419.2,387.58 419.7,387.91 420.2,387.11 420.7,385.08 421.2,382.99 421.7,381.33 422.2,380.14 422.7,379.58 423.2,379.28 423.7,379.17 424.2,379.15 424.7,379.17 425.2,379.23 425.7,379.16 426.2,378.92 426.7,378.53 427.2,377.92 427.7,377.04 428.2,375.65 428.7,373.6 429.2,371.18 429.7,368.59 430.2,366.35 430.7,364.5 431.2,363.4 431.7,362.92 432.2,362.99 432.7,363.5 433.2,364.45 433.7,365.88 434.2,367.63 434.7,369.57 435.2,371.73 435.7,373.94 436.2,376.19 436.7,378.52 437.2,381.03 437.7,383.63 438.2,386.01 438.7,388.24 439.2,389.95 439.7,391.1 440.2,391.46 440.7,390.69 441.2,388.62 441.7,386.09 442.2,384.25 442.7,382.68 443.2,381.79 443.7,381.39 444.2,381.17 444.7,381.14 445.2,381.17 445.7,381.24 446.2,381.36 446.7,381.37 447.2,381.19 447.7,380.89 448.2,380.41 448.7,379.7 449.2,378.72 449.7,377.11 450.2,374.99 450.7,372.52 451.2,370.01 451.7,367.87 452.2,366.04 452.7,364.91 453.2,364.39 453.7,364.34 454.2,364.7 454.7,365.51 455.2,366.83 455.7,368.5 456.2,370.38 456.7,372.48 457.2,374.63 457.7,376.83 458.2,379.13 458.7,381.64 459.2,384.04 459.7,386.34 460.2,388.18 460.7,389.49 461.2,390.02 461.7,389.47 462.2,387.55 462.7,385.1 463.2,383.3 463.7,381.82 464.2,381.06 464.7,380.71 465.2,380.53 465.7,380.51 466.2,380.52 466.7,380.61 467.2,380.65 467.7,380.5 468.2,380.2 468.7,379.73 469.2,378.99 469.7,377.97 470.2,376.27 470.7,374.04 471.2,371.4 471.7,368.91 472.2,366.72 472.7,365.06 473.2,364.16 473.7,363.84 474.2,363.95 474.7,364.36 475.2,365.06 475.7,366.1 476.2,367.36 476.7,368.74 477.2,370.29 477.7,371.91 478.2,373.54 478.7,375.21 479.2,376.96 479.7,378.86 480.2,380.69 480.7,382.43 481.2,383.99 481.7,385.18 482.2,385.99 482.7,386.24 483.2,385.56 483.7,383.79 484.2,381.83 484.7,380.35 485.2,379.18 485.7,378.61 486.2,378.36 486.7,378.25 487.2,378.27 487.7,378.31 488.2,378.41 488.7,378.48 489.2,378.41 489.7,378.21 490.2,377.9 490.7,377.38 491.2,376.66 491.7,375.49 492.2,373.84 492.7,371.93 493.2,369.95 493.7,368.27 494.2,366.88 494.7,366.08 495.2,365.76 495.7,365.77 496.2,365.97 496.7,366.36 497.2,366.96 497.7,367.77 498.2,368.73 498.7,369.76 499.2,370.91 499.7,372.11 500.2,373.32 500.7,374.55 501.2,375.82 501.7,377.18 502.2,378.6 502.7,379.91 503.2,381.22 503.7,382.35 504.2,383.23 504.7,383.86 505.2,384.13 505.7,383.46 506.2,381.43 506.7,379.63 507.2,378.21 507.7,377.53 508.2,377.23 508.7,377.12 509.2,377.1 509.7,377.15 510.2,377.13 510.7,376.91 511.2,376.52 511.7,375.85 512.2,374.82 512.7,373.05 513.2,370.73 513.7,368.25 514.2,366.13 514.7,364.63 515.2,363.94 515.7,363.88 516.2,364.23 516.7,364.93 517.2,366.03 517.7,367.46 518.2,369.06 518.7,370.87 519.2,372.8 519.7,374.75 520.2,376.75 520.7,378.82 521.2,381.04 521.7,383.33 522.2,385.43 522.7,387.47 523.2,389.06 523.7,390.26 524.2,390.84 524.7,390.52 525.2,388.73 525.7,386.06 526.2,384.12 526.7,382.49 527.2,381.63 527.7,381.26 528.2,381.07 528.7,381.07 529.2,381.11 529.7,381.21 530.2,381.28 530.7,381.14 531.2,380.85 531.7,380.38 532.2,379.63 532.7,378.56 533.2,376.8 533.7,374.49 534.2,371.8 534.7,369.36 535.2,367.22 535.7,365.71 536.2,364.97 536.7,364.79 537.2,365.03 537.7,365.64 538.2,366.67 538.7,368.08 539.2,369.67 539.7,371.48 540.2,373.38 540.7,375.31 541.2,377.3 541.7,379.41 542.2,381.67 542.7,383.73 543.2,385.7 543.7,387.2 544.2,388.22 544.7,388.53 545.2,387.87 545.7,386.09 546.2,383.97 546.7,382.4 547.2,381.08 547.7,380.36 548.2,380.03 548.7,379.84 549.2,379.81 549.7,379.82 550.2,379.88 550.7,379.95 551.2,379.91 551.7,379.72 552.2,379.41 552.7,378.93 553.2,378.24 553.7,377.23 554.2,375.68 554.7,373.7 555.2,371.41 555.7,369.3 556.2,367.42 556.7,365.97 557.2,365.14 557.7,364.81 558.2,364.91 558.7,365.49 559.2,366.56 559.7,368.16 560.2,370.03 560.7,372.16 561.2,374.47 561.7,376.8 562.2,379.21 562.7,381.74 563.2,384.48 563.7,387 564.2,389.44 564.7,391.3 565.2,392.56 565.7,392.94 566.2,392.13 566.7,389.95 567.2,387.37 567.7,385.41 568.2,383.76 568.7,382.85 569.2,382.4 569.7,382.11 570.2,382.02 570.7,381.98 571.2,382 571.7,382.03 572.2,381.9 572.7,381.58 573.2,381.1 573.7,380.37 574.2,379.36 574.7,377.85 575.2,375.62 575.7,372.83 576.2,369.62 576.7,366.73 577.2,364.11 577.7,362.14 578.2,360.99 578.7,360.49 579.2,360.69 579.7,361.38 580.2,362.59 580.7,364.31 581.2,366.31 581.7,368.57 582.2,371 582.7,373.45 583.2,375.98 583.7,378.64 584.2,381.52 584.7,384.17 585.2,386.8 585.7,388.84 586.2,390.29 586.7,390.89 587.2,390.19 587.7,387.83 588.2,384.96 588.7,382.83 589.2,381.17 589.7,380.39 590.2,380.03 590.7,379.89 591.2,379.92 591.7,379.98 592.2,380.12 592.7,380.14 593.2,379.93 593.7,379.55 594.2,378.92 594.7,378 595.2,376.55 595.7,374.34 596.2,371.61 596.7,368.59 597.2,366.02 597.7,363.83 598.2,362.52 598.7,361.97 599.2,361.97 599.7,362.37 600.2,363.15 600.7,364.37 601.2,365.95 601.7,367.71 602.2,369.7 602.7,371.81 603.2,373.94 603.7,376.12 604.2,378.39 604.7,380.86 605.2,383.3 605.7,385.58" fill="none" stroke="#2f8a3a" stroke-width="1.3" stroke-linejoin="round" />
<polyline points="268.7,303.67 269.1,305.11 269.5,306.65 269.9,308.43 270.3,310.21 270.7,309.71 271.1,308.12 271.5,309.84 271.9,311.56 272.3,313.27 272.7,314.99 273.1,316.7 273.5,318.24 273.9,315.28 274.3,315.47 274.7,316.9 275.1,318.33 275.5,319.77 275.9,321.18 276.3,322.5 276.7,322.59 277.1,319.49 277.5,320.81 277.9,322.13 278.3,323.39 278.7,324.48 279.1,325.57 279.5,326.66 279.9,323.21 280.3,319.6 280.7,318.27 281.1,318.23 281.5,318.26 281.9,318.3 282.3,318.32 282.7,317.78 283.1,311.24 283.5,309.81 283.9,308.54 284.3,307.47 284.7,307.12 285.1,306.75 285.5,306.38 285.9,303.73 286.3,299.98 286.7,299.6 287.1,299.19 287.5,298.52 287.9,297.85 288.3,300.44 288.7,303.04 289.1,300.88 289.5,301.12 289.9,302.6 290.3,304.07 290.7,305.75 291.1,307.58 291.5,309.42 291.9,310.03 292.3,307.43 292.7,309.2 293.1,310.97 293.5,312.74 293.9,314.51 294.3,316.28 294.7,317.79 295.1,315.92 295.5,315.09 295.9,316.56 296.3,318.04 296.7,319.51 297.1,320.93 297.5,322.28 297.9,323.47 298.3,319.52 298.7,320.69 299.1,322.04 299.5,323.26 299.9,324.37 300.3,325.48 300.7,326.59 301.1,323.53 301.5,318.77 301.9,317.64 302.3,317.69 302.7,317.74 303.1,317.79 303.5,317.84 303.9,317.17 304.3,311.56 304.7,309.12 305.1,307.93 305.5,307.19 305.9,306.93 306.3,306.68 306.7,306.44 307.1,304.98 307.5,300.32 307.9,300.09 308.3,299.79 308.7,299.32 309.1,299.6 309.5,302.12 309.9,304.64 310.3,303.28 310.7,302.43 311.1,303.88 311.5,305.33 311.9,307 312.3,308.79 312.7,310.58 313.1,312.21 313.5,308.69 313.9,310.24 314.3,311.97 314.7,313.7 315.1,315.43 315.5,317.16 315.9,318.67 316.3,317.83 316.7,315.91 317.1,317.36 317.5,318.8 317.9,320.24 318.3,321.66 318.7,322.99 319.1,324.31 319.5,321.24 319.9,321.33 320.3,322.65 320.7,323.95 321.1,325.05 321.5,326.14 321.9,327.24 322.3,326.48 322.7,320.6 323.1,319.16 323.5,318.86 323.9,318.89 324.3,318.92 324.7,318.95 325.1,318.54 325.5,313.92 325.9,310.36 326.3,309.1 326.7,308.21 327.1,307.91 327.5,307.61 327.9,307.32 328.3,306.87 328.7,301.28 329.1,300.82 329.5,300.41 329.9,299.88 330.3,300.81 330.7,303.21 331.1,305.62 331.5,304.87 331.9,302.91 332.3,304.31 332.7,305.78 333.1,307.5 333.5,309.22 333.9,310.95 334.3,312.67 334.7,309.94 335.1,310.36 335.5,312.03 335.9,313.7 336.3,315.36 336.7,316.82 337.1,318.22 337.5,318.4 337.9,315.37 338.3,316.77 338.7,318.17 339.1,319.51 339.5,320.8 339.9,322.09 340.3,323.38 340.7,321.33 341.1,320.32 341.5,321.46 341.9,322.53 342.3,323.6 342.7,324.67 343.1,323.52 343.5,322.18 343.9,316.25 344.3,316.16 344.7,316.23 345.1,316.3 345.5,316.37 345.9,315.46 346.3,314.33 346.7,310.9 347.1,306.39 347.5,305.84 347.9,305.53 348.3,305.21 348.7,304.88 349.1,304.54 349.5,304.2 349.9,299.45 350.3,297.71 350.7,297.09 351.1,297.99 351.5,300.42 351.9,302.85 352.3,304.46 352.7,304.65 353.1,301.64 353.5,303.07 353.9,304.81 354.3,306.55 354.7,308.29 355.1,310.03 355.5,311.72 355.9,310.06 356.3,309.44 356.7,311.13 357.1,312.81 357.5,314.38 357.9,315.79 358.3,317.2 358.7,318.44 359.1,314.55 359.5,315.78 359.9,317.18 360.3,318.49 360.7,319.79 361.1,321.08 361.5,322.38 361.9,321.4 362.3,319.33 362.7,320.41 363.1,321.48 363.5,322.56 363.9,323.06 364.3,321.84 364.7,320.63 365.1,315.92 365.5,314.78 365.9,314.89 366.3,314.99 366.7,315.01 367.1,313.95 367.5,312.9 367.9,310.64 368.3,305.18 368.7,304.97 369.1,304.78 369.5,304.6 369.9,304.42 370.3,304.24 370.7,304.07 371.1,300.56 371.5,297.91 371.9,297.51 372.3,299.3 372.7,301.81 373.1,304.12 373.5,305.57 373.9,306.86 374.3,303 374.7,304.47 375.1,306.26 375.5,308.05 375.9,309.83 376.3,311.59 376.7,313.32 377.1,312.76 377.5,311.13 377.9,312.86 378.3,314.48 378.7,315.91 379.1,317.35 379.5,318.79 379.9,320.23 380.3,317.27 380.7,317.44 381.1,318.77 381.5,320.09 381.9,321.42 382.3,322.74 382.7,324.06 383.1,324.03 383.5,320.71 383.9,321.8 384.3,322.89 384.7,321.8 385.1,320.71 385.5,319.92 385.9,320.05 386.3,316.84 386.7,314.67 387.1,314.8 387.5,314.6 387.9,313.63 388.3,312.65 388.7,311.67 389.1,310.53 389.5,304.98 389.9,304.62 390.3,304.45 390.7,304.27 391.1,304.1 391.5,303.92 391.9,303.75 392.3,301.25 392.7,297.48 393.1,297.08 393.5,299.68 393.9,302.29 394.3,304.47 394.7,305.95 395.1,307.43 395.5,304.51 395.9,305.01 396.3,306.85 396.7,308.69 397.1,310.53 397.5,312.34 397.9,314.12 398.3,314.68 398.7,312.03 399.1,313.81 399.5,315.51 399.9,316.98 400.3,318.46 400.7,319.93 401.1,321.41 401.5,319.54 401.9,318.72 402.3,320.08 402.7,321.43 403.1,322.79 403.5,324.14 403.9,325.49 404.3,326.64 404.7,322.46 405.1,323.39 405.5,324.5 405.9,324.33 406.3,322.89 406.7,321.53 407.1,321.58 407.5,319.36 407.9,316.07 408.3,316.15 408.7,315.48 409.1,314.31 409.5,313.16 409.9,312.03 410.3,311.5 410.7,306.91 411.1,305.5 411.5,305.33 411.9,305.18 412.3,305.04 412.7,304.91 413.1,304.62 413.5,303.05 413.9,300.38 414.3,302.84 414.7,305.19 415.1,306.62 415.5,308.04 415.9,309.46 416.3,311.02 416.7,309.43 417.1,308.89 417.5,310.64 417.9,312.39 418.3,314.08 418.7,315.78 419.1,317.47 419.5,319.01 419.9,315.4 420.3,316.68 420.7,318.09 421.1,319.51 421.5,320.93 421.9,322.34 422.3,323.76 422.7,322.84 423.1,320.79 423.5,322.09 423.9,323.4 424.3,324.7 424.7,326.01 425.1,327.16 425.5,328.24 425.9,324.92 426.3,324.76 426.7,323.47 427.1,322.18 427.5,321.62 427.9,321.69 428.3,321.77 428.7,320.63 429.1,316.19 429.5,315.06 429.9,313.94 430.3,312.83 430.7,311.85 431.1,311.62 431.5,311.4 431.9,307.85 432.3,305.33 432.7,305.12 433.1,304.92 433.5,304.66 433.9,304.22 434.3,304.48 434.7,306.7 435.1,303.78 435.5,305.3 435.9,306.69 436.3,308.08 436.7,309.5 437.1,311.21 437.5,312.92 437.9,312.35 438.3,310.69 438.7,312.34 439.1,313.99 439.5,315.64 439.9,317.29 440.3,318.95 440.7,320.36 441.1,317.35 441.5,317.5 441.9,318.88 442.3,320.27 442.7,321.65 443.1,322.96 443.5,324.24 443.9,324.3 444.3,321.16 444.7,322.44 445.1,323.7 445.5,324.76 445.9,325.83 446.3,326.9 446.7,327.02 447.1,322.86 447.5,319.73 447.9,319.41 448.3,319.61 448.7,319.81 449.1,320 449.5,320.19 449.9,320.12 450.3,314.03 450.7,313.05 451.1,312.25 451.5,311.43 451.9,310.81 452.3,310.69 452.7,310.56 453.1,308.15 453.5,304.65 453.9,304.5 454.3,304.35 454.7,304.19 455.1,304.03 455.5,303.68 455.9,303.29 456.3,300.03 456.7,301.46 457.1,303.86 457.5,305.36 457.9,306.86 458.3,308.39 458.7,310.26 459.1,310.92 459.5,308.38 459.9,310.23 460.3,312.04 460.7,313.85 461.1,315.66 461.5,317.47 461.9,319 462.3,317.16 462.7,316.36 463.1,317.86 463.5,319.36 463.9,320.8 464.3,322.18 464.7,323.55 465.1,324.76 465.5,320.84 465.9,321.92 466.3,323.05 466.7,324.17 467.1,324.8 467.5,323.93 467.9,323.04 468.3,320.09 468.7,316.89 469.1,317.05 469.5,317.21 469.9,317.36 470.3,317.5 470.7,316.86 471.1,315.96 471.5,310.64 471.9,308.47 472.3,307.52 472.7,307.25 473.1,307.03 473.5,306.8 473.9,306.56 474.3,305.09 474.7,300.42 475.1,300.15 475.5,299.88 475.9,299.5 476.3,298.98 476.7,298.44 477.1,301.32 477.5,300.86 477.9,300.47 478.3,302.06 478.7,303.64 479.1,305.48 479.5,307.48 479.9,309.48 480.3,311.33 480.7,307.95 481.1,309.7 481.5,311.63 481.9,313.56 482.3,315.31 482.7,316.89 483.1,318.48 483.5,317.78 483.9,316 484.3,317.57 484.7,319.01 485.1,320.45 485.5,321.89 485.9,323.34 486.3,324.74 486.7,321.5 487.1,321.43 487.5,322.6 487.9,321.69 488.3,320.79 488.7,319.9 489.1,319.88 489.5,318.88 489.9,314.68 490.3,314.91 490.7,315.14 491.1,315.38 491.5,314.66 491.9,313.95 492.3,313.24 492.7,309.21 493.1,306.22 493.5,306.13 493.9,306.15 494.3,306.17 494.7,306.21 495.1,306.25 495.5,306.13 495.9,300.88 496.3,300.76 496.7,300.82 497.1,300.73 497.5,300.62 497.9,301.27 498.3,304.2 498.7,304.85 499.1,303.18 499.5,304.8 499.9,306.41 500.3,308.31 500.7,310.35 501.1,312.38 501.5,314.42 501.9,311.98 502.3,312.69 502.7,314.65 503.1,316.61 503.5,318.44 503.9,320.04 504.3,321.64 504.7,322.03 505.1,319.21 505.5,320.82 505.9,322.3 506.3,323.76 506.7,325.22 507.1,326.68 507.5,328.15 507.9,326.06 508.3,324.93 508.7,326.11 509.1,326.11 509.5,324.96 509.9,323.84 510.3,323.43 510.7,323.43 511.1,318.29 511.5,318.28 511.9,318.46 512.3,318.34 512.7,317.45 513.1,316.57 513.5,315.71 513.9,312.6 514.3,308.87 514.7,308.84 515.1,308.83 515.5,308.82 515.9,308.82 516.3,308.84 516.7,308.87 517.1,304.51 517.5,303.25 517.9,303.1 518.3,302.97 518.7,305.43 519.1,307.89 519.5,309.77 519.9,309.97 520.3,306.98 520.7,308.45 521.1,310.21 521.5,311.96 521.9,313.72 522.3,315.46 522.7,317.16 523.1,315.52 523.5,314.91 523.9,316.61 524.3,318.2 524.7,319.62 525.1,321.04 525.5,322.46 525.9,323.72 526.3,319.84 526.7,321.02 527.1,322.32 527.5,323.63 527.9,324.94 528.3,326.24 528.7,327.51 529.1,326.32 529.5,324.04 529.9,325.12 530.3,324.78 530.7,323.96 531.1,323.15 531.5,323.16 531.9,323.4 532.3,319.24 532.7,318.25 533.1,318.5 533.5,318.34 533.9,317.67 534.3,317.01 534.7,316.36 535.1,314.49 535.5,309.89 535.9,309.91 536.3,309.95 536.7,309.98 537.1,310.02 537.5,310.07 537.9,310.12 538.3,306.83 538.7,304.52 539.1,304.39 539.5,304.27 539.9,306.67 540.3,309.07 540.7,310.95 541.1,312.19 541.5,308.28 541.9,309.52 542.3,311.24 542.7,312.96 543.1,314.68 543.5,316.39 543.9,318.05 544.3,317.43 544.7,315.73 545.1,317.4 545.5,319.02 545.9,320.42 546.3,321.81 546.7,323.2 547.1,324.6 547.5,321.59 547.9,321.73 548.3,323.01 548.7,324.3 549.1,325.58 549.5,326.87 549.9,328.15 550.3,328.06 550.7,324.71 551.1,325.78 551.5,326.38 551.9,325.56 552.3,324.71 552.7,324.18 553.1,324.36 553.5,321.2 553.9,319.06 554.3,319.23 554.7,319.36 555.1,318.51 555.5,317.65 555.9,316.77 556.3,315.71 556.7,309.73 557.1,309.35 557.5,309.15 557.9,308.93 558.3,308.71 558.7,308.47 559.1,308.23 559.5,305.69 559.9,302.05 560.3,301.55 560.7,301.05 561.1,302.92 561.5,305.59 561.9,308.12 562.3,309.62 562.7,306.73 563.1,307 563.5,308.67 563.9,310.55 564.3,312.44 564.7,314.32 565.1,316.18 565.5,316.77 565.9,314.17 566.3,315.98 566.7,317.8 567.1,319.61 567.5,321.11 567.9,322.61 568.3,324.11 568.7,322.27 569.1,321.47 569.5,322.98 569.9,324.39 570.3,325.76 570.7,327.14 571.1,328.51 571.5,329.73 571.9,325.81 572.3,326.77 572.7,327.89 573.1,329.02 573.5,329.54 573.9,328.23 574.3,326.91 574.7,324 575.1,320.68 575.5,320.73 575.9,320.77 576.3,320.81 576.7,320.16 577.1,318.94 577.5,317.71 577.9,312.08 578.3,309.74 578.7,309.41 579.1,309.08 579.5,308.74 579.9,308.4 580.3,308.06 580.7,306.5 581.1,301.73 581.5,301.26 581.9,300.64 582.3,300.78 582.7,303.25 583.1,305.71 583.5,307.33 583.9,305.41 584.3,304.53 584.7,306.09 585.1,307.85 585.5,309.6 585.9,311.36 586.3,313.09 586.7,314.63 587.1,311.02 587.5,312.54 587.9,314.24 588.3,315.76 588.7,317.18 589.1,318.6 589.5,320.02 589.9,319.16 590.3,317.21 590.7,318.55 591.1,319.85 591.5,321.16 591.9,322.46 592.3,323.77 592.7,324.99 593.1,321.67 593.5,321.51 593.9,322.6 594.3,321.65 594.7,320.71 595.1,320.05 595.5,320.24 595.9,319.22 596.3,314.99 596.7,315.19 597.1,315.09 597.5,314.28 597.9,313.49 598.3,312.7 598.7,311.91 599.1,308.44 599.5,306.09 599.9,306.04 600.3,305.99 600.7,305.95 601.1,305.91 601.5,305.87 601.9,305.64 602.3,300.1 602.7,299.69 603.1,302.14 603.5,304.58 603.9,306.58 604.3,308 604.7,309.41 605.1,308.55 605.5,306.89 605.9,308.64" fill="none" stroke="#2c3f9c" stroke-width="1.2" stroke-linejoin="round" />
<text x="295.3" y="424.2" text-anchor="middle" font-size="8.9" >1:46:00</text>
<text x="337.2" y="424.2" text-anchor="middle" font-size="8.9" >1:46:10</text>
<text x="379.1" y="424.2" text-anchor="middle" font-size="8.9" >1:46:20</text>
<text x="421" y="424.2" text-anchor="middle" font-size="8.9" >1:46:30</text>
<text x="462.9" y="424.2" text-anchor="middle" font-size="8.9" >1:46:40</text>
<text x="504.8" y="424.2" text-anchor="middle" font-size="8.9" >1:46:50</text>
<text x="546.7" y="424.2" text-anchor="middle" font-size="8.9" >1:47:00</text>
<text x="588.6" y="424.2" text-anchor="middle" font-size="8.9" >1:47:10</text>
<text x="263.5" y="343.4" text-anchor="end" font-size="8.9" >22</text>
<text x="263.5" y="333.7" text-anchor="end" font-size="8.9" >23</text>
<text x="263.5" y="324" text-anchor="end" font-size="8.9" >24</text>
<text x="263.5" y="314.3" text-anchor="end" font-size="8.9" >25</text>
<text x="263.5" y="304.6" text-anchor="end" font-size="8.9" >26</text>
<text x="263.5" y="294.9" text-anchor="end" font-size="8.9" >27</text>
<text x="263.5" y="285.2" text-anchor="end" font-size="8.9" >28</text>
<text x="263.9" y="352.22" text-anchor="end" font-size="8.9" >6</text>
<text x="263.9" y="361.78" text-anchor="end" font-size="8.9" >4</text>
<text x="263.9" y="371.34" text-anchor="end" font-size="8.9" >2</text>
<text x="263.9" y="380.9" text-anchor="end" font-size="8.9" >0</text>
<text x="263.9" y="390.46" text-anchor="end" font-size="8.9" >−2</text>
<text x="263.9" y="400.02" text-anchor="end" font-size="8.9" >−4</text>
<text x="263.9" y="409.58" text-anchor="end" font-size="8.9" >−6</text>
<text x="574.2" y="441" text-anchor="middle" font-size="8.9" >Time</text>
<text transform="translate(246.8,296.6) rotate(-90)" text-anchor="middle" font-size="8.9">PVP (V)</text>
<text transform="translate(246.8,363.5) rotate(-90)" text-anchor="middle" font-size="8.9">PPG low pass filter (V)</text>
<polyline points="111,52 111,99.2 31.7,99.2 31.7,145" fill="none" stroke="#4472ac" stroke-width="1.8"/>
<polyline points="27.8,139 31.7,145.4 35.6,139" fill="none" stroke="#4472ac" stroke-width="2" stroke-linecap="round" stroke-linejoin="round"/>
<line x1="365.9" y1="126" x2="365.9" y2="262" stroke="#4472ac" stroke-width="2.5"/>
<polyline points="361,253.3 366,262.3 371,253.3" fill="none" stroke="#4472ac" stroke-width="2.4" stroke-linecap="round" stroke-linejoin="round"/>
<rect x="10.6" y="73.3" width="95.2" height="21.0" fill="#fff" stroke="#0a0a0a" stroke-width="1.95"/>
<text x="57.9" y="88.9" text-anchor="middle" font-size="12.0" fill="#111">High pass filter</text>
<rect x="371.3" y="168.3" width="95.7" height="21.35" fill="#fff" stroke="#0a0a0a" stroke-width="1.9"/>
<text x="416.8" y="184.1" text-anchor="middle" font-size="12.0" fill="#111">Low pass filter</text>
</svg>
</body></html>
